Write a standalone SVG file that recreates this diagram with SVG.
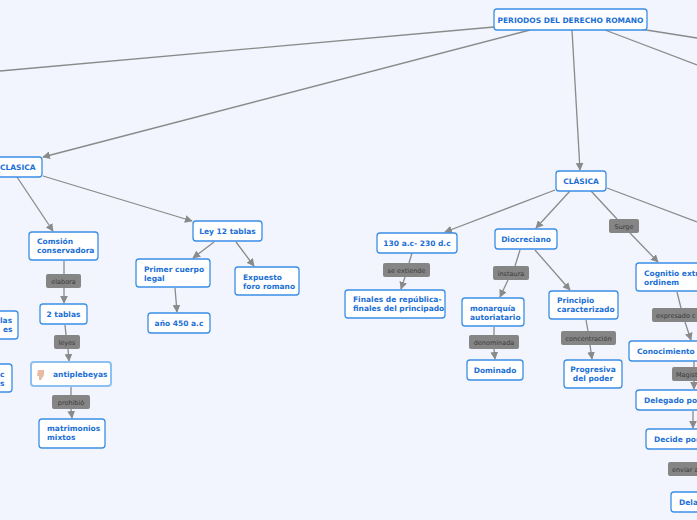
<svg xmlns="http://www.w3.org/2000/svg" width="697" height="520" viewBox="0 0 697 520">
<defs>
<style>
.n rect{fill:#fff;stroke:#3a8ee6;stroke-width:1.3}
.n text{font-family:Verdana,"DejaVu Sans",sans-serif;font-size:7.5px;font-weight:bold;fill:#1a6fd6}
.l rect{fill:#858585;stroke:none}
.l text{font-family:Verdana,"DejaVu Sans",sans-serif;font-size:6.5px;fill:#3a3a3a;text-anchor:middle}
#edges line{stroke:#8a8a8a;stroke-width:1.3}
.a{marker-end:url(#ar)}
</style>
<marker id="ar" viewBox="0 0 10 10" refX="9" refY="5" markerWidth="6" markerHeight="6" orient="auto"><path d="M0,0L10,5L0,10z" fill="#8a8a8a"/></marker>
</defs>
<rect width="697" height="520" fill="#f2f5fd"/>
<g id="edges">
<line x1="494" y1="27" x2="0" y2="71"/>
<line class="a" x1="530" y1="30" x2="43" y2="157"/>
<line class="a" x1="572" y1="30" x2="580" y2="170"/>
<line x1="605" y1="30" x2="697" y2="65"/>
<line x1="640" y1="29" x2="697" y2="38"/>
<line class="a" x1="17" y1="177" x2="53" y2="231"/>
<line class="a" x1="43" y1="176" x2="192" y2="221"/>
<line class="a" x1="214" y1="242" x2="193" y2="258"/>
<line class="a" x1="236" y1="242" x2="254" y2="266"/>
<line class="a" x1="175" y1="288" x2="177" y2="312"/>
<line x1="64" y1="261" x2="64" y2="274"/>
<line class="a" x1="64" y1="288" x2="64" y2="303"/>
<line x1="65" y1="325" x2="66" y2="335"/>
<line class="a" x1="68" y1="349" x2="69" y2="361"/>
<line x1="71" y1="387" x2="71" y2="395"/>
<line class="a" x1="71" y1="409" x2="72" y2="418"/>
<line class="a" x1="555" y1="190" x2="445" y2="232"/>
<line class="a" x1="570" y1="191" x2="536" y2="228"/>
<line x1="591" y1="191" x2="617" y2="219"/>
<line class="a" x1="630" y1="233" x2="658" y2="262"/>
<line x1="607" y1="188" x2="697" y2="222"/>
<line x1="412" y1="253" x2="409" y2="263"/>
<line class="a" x1="405" y1="277" x2="401" y2="289"/>
<line x1="520" y1="250" x2="515" y2="266"/>
<line class="a" x1="508" y1="280" x2="500" y2="297"/>
<line class="a" x1="535" y1="250" x2="570" y2="290"/>
<line x1="494" y1="327" x2="494" y2="335"/>
<line class="a" x1="494" y1="349" x2="495" y2="359"/>
<line x1="586" y1="320" x2="588" y2="331"/>
<line class="a" x1="590" y1="345" x2="592" y2="359"/>
<line x1="677" y1="292" x2="681" y2="308"/>
<line class="a" x1="685" y1="322" x2="691" y2="340"/>
<line x1="694" y1="361" x2="694" y2="367"/>
<line class="a" x1="694" y1="381" x2="694" y2="389"/>
<line class="a" x1="693" y1="411" x2="693" y2="428"/>
</g>
<g id="root" class="n"><rect x="494" y="9" width="153" height="21" rx="3"/><text x="570.5" y="22.5" text-anchor="middle">PERIODOS DEL DERECHO ROMANO</text></g>
<g id="clasica" class="n"><rect x="-6" y="157" width="48" height="20" rx="3"/><text x="0" y="170">CLASICA</text></g>
<g id="comision" class="n"><rect x="29" y="232" width="69" height="28" rx="3"/><text x="37" y="244">Comsión<tspan x="37" dy="9">conservadora</tspan></text></g>
<g id="ley12" class="n"><rect x="193" y="221" width="69" height="20" rx="3"/><text x="227.5" y="234" text-anchor="middle">Ley 12 tablas</text></g>
<g id="primer" class="n"><rect x="136" y="259" width="74" height="28" rx="3"/><text x="144" y="272">Primer cuerpo<tspan x="144" dy="9">legal</tspan></text></g>
<g id="expuesto" class="n"><rect x="235" y="267" width="64" height="28" rx="3"/><text x="243" y="280">Expuesto<tspan x="243" dy="9">foro romano</tspan></text></g>
<g id="ano450" class="n"><rect x="148" y="313" width="62" height="20" rx="3"/><text x="179" y="326" text-anchor="middle">año 450 a.c</text></g>
<g id="dostablas" class="n"><rect x="40" y="304" width="47" height="20" rx="3"/><text x="63.5" y="317" text-anchor="middle">2 tablas</text></g>
<g id="antiplebeyas" class="n"><rect x="31" y="362" width="80" height="24" rx="3" style="stroke:#8cc0f2;stroke-width:2"/><path d="M38,370h6v5l-3,5h-2v-4h-2z" fill="#e8b9a3"/><text x="53" y="377">antiplebeyas</text></g>
<g id="matrimonios" class="n"><rect x="39" y="419" width="66" height="29" rx="3"/><text x="47" y="431">matrimonios<tspan x="47" dy="9">mixtos</tspan></text></g>
<g id="left1" class="n"><rect x="-10" y="311" width="28" height="28" rx="3"/><text x="0" y="323">las<tspan x="3" dy="9">es</tspan></text></g>
<g id="left2" class="n"><rect x="-10" y="364" width="22" height="28" rx="3"/><text x="0" y="377">c<tspan x="0" dy="9">s</tspan></text></g>
<g id="clasica2" class="n"><rect x="556" y="171" width="50" height="20" rx="3"/><text x="581" y="184" text-anchor="middle">CLÁSICA</text></g>
<g id="n130" class="n"><rect x="377" y="233" width="80" height="20" rx="3"/><text x="417" y="246" text-anchor="middle">130 a.c- 230 d.c</text></g>
<g id="diocreciano" class="n"><rect x="495" y="229" width="62" height="20" rx="3"/><text x="526" y="242" text-anchor="middle">Diocreciano</text></g>
<g id="finales" class="n"><rect x="345" y="290" width="100" height="28" rx="3"/><text x="353" y="302">Finales de república-<tspan x="353" dy="9">finales del principado</tspan></text></g>
<g id="monarquia" class="n"><rect x="462" y="298" width="62" height="28" rx="3"/><text x="470" y="311">monarquía<tspan x="470" dy="9">autoriatario</tspan></text></g>
<g id="dominado" class="n"><rect x="467" y="360" width="56" height="20" rx="3"/><text x="495" y="373" text-anchor="middle">Dominado</text></g>
<g id="principio" class="n"><rect x="549" y="291" width="69" height="28" rx="3"/><text x="557" y="303">Principio<tspan x="557" dy="9">caracterizado</tspan></text></g>
<g id="progresiva" class="n"><rect x="564" y="360" width="58" height="28" rx="3"/><text x="593" y="372" text-anchor="middle">Progresiva<tspan x="593" dy="9">del poder</tspan></text></g>
<g id="cognitio" class="n"><rect x="636" y="263" width="72" height="28" rx="3"/><text x="644" y="276">Cognitio extra<tspan x="644" dy="9">ordinem</tspan></text></g>
<g id="conocimiento" class="n"><rect x="629" y="341" width="80" height="20" rx="3"/><text x="637" y="354">Conocimiento f</text></g>
<g id="delegado" class="n"><rect x="636" y="390" width="72" height="20" rx="3"/><text x="644" y="403">Delegado por</text></g>
<g id="decide" class="n"><rect x="646" y="429" width="62" height="20" rx="3"/><text x="654" y="442">Decide por</text></g>
<g id="dela" class="n"><rect x="671" y="492" width="40" height="20" rx="3"/><text x="679" y="505">Dela</text></g>
<g id="lb1" class="l"><rect x="46" y="274" width="35" height="14" rx="2"/><text x="63.5" y="284">elabora</text></g>
<g id="lb2" class="l"><rect x="54" y="335" width="26" height="14" rx="2"/><text x="67" y="345">leyes</text></g>
<g id="lb3" class="l"><rect x="52" y="395" width="38" height="14" rx="2"/><text x="71" y="405">prohibió</text></g>
<g id="lb4" class="l"><rect x="383" y="263" width="47" height="14" rx="2"/><text x="406.5" y="273">se extiende</text></g>
<g id="lb5" class="l"><rect x="493" y="266" width="36" height="14" rx="2"/><text x="511" y="276">instaura</text></g>
<g id="lb6" class="l"><rect x="469" y="335" width="50" height="14" rx="2"/><text x="494" y="345">denominada</text></g>
<g id="lb7" class="l"><rect x="561" y="331" width="55" height="14" rx="2"/><text x="588.5" y="341">concentración</text></g>
<g id="lb8" class="l"><rect x="609" y="219" width="30" height="14" rx="2"/><text x="624" y="229">Surge</text></g>
<g id="lb9" class="l"><rect x="652" y="308" width="50" height="14" rx="2"/><text x="656" y="318" style="text-anchor:start">expresado c</text></g>
<g id="lb10" class="l"><rect x="672" y="367" width="30" height="14" rx="2"/><text x="676" y="377" style="text-anchor:start">Magist</text></g>
<g id="lb11" class="l"><rect x="668" y="462" width="35" height="14" rx="2"/><text x="672" y="472" style="text-anchor:start">enviar a</text></g>
</svg>
